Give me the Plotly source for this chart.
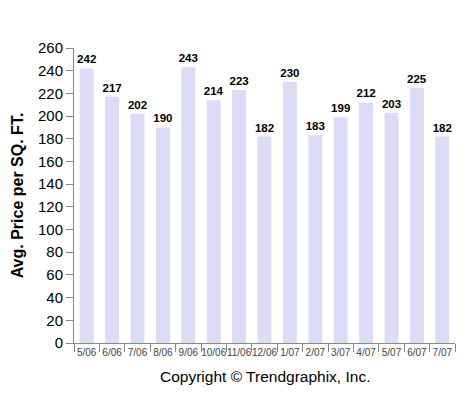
import plotly.graph_objects as go

months = ["5/06", "6/06", "7/06", "8/06", "9/06", "10/06", "11/06", "12/06",
          "1/07", "2/07", "3/07", "4/07", "5/07", "6/07", "7/07"]
prices = [242, 217, 202, 190, 243, 214, 223, 182, 230, 183, 199, 212, 203, 225, 182]

fig = go.Figure(go.Bar(
    x=months, y=prices,
    text=[str(v) for v in prices],
    textposition="outside",
    constraintext="none",
    cliponaxis=False,
    textfont=dict(family="Liberation Sans, Arial", size=11.5, color="black", weight="bold"),
    marker=dict(color="#dcdcf8", line=dict(width=0)),
))

fig.update_layout(
    width=474, height=395,
    margin=dict(l=74, r=19, t=48, b=52, autoexpand=False),
    paper_bgcolor="white", plot_bgcolor="white",
    bargap=0.45,
    showlegend=False,
    font=dict(family="Liberation Sans, Arial", color="black"),
    xaxis=dict(
        type="category", tickson="boundaries", automargin=False,
        ticks="outside", ticklen=8, tickcolor="#888888", tickangle=0,
        showline=True, linecolor="#888888", linewidth=1,
        showgrid=False,
        tickfont=dict(size=10, color="#444444"),
    ),
    yaxis=dict(
        range=[0, 260], dtick=20, tick0=0, automargin=False,
        ticks="outside", ticklen=7, tickcolor="#888888",
        showline=True, linecolor="#888888", linewidth=1,
        showgrid=False, zeroline=False,
        tickfont=dict(size=15, color="black"),
        title=dict(text="<b>Avg. Price per SQ. FT.</b>", font=dict(size=16), standoff=10),
    ),
    annotations=[dict(
        text="Copyright © Trendgraphix, Inc.",
        x=0.5, y=-0.112, xref="paper", yref="paper",
        xanchor="center", yanchor="middle", showarrow=False,
        font=dict(size=15.5, color="black"),
    )],
)

fig.write_html("out.html", post_script="document.body.style.margin='0';",
               config={"displayModeBar": False})
